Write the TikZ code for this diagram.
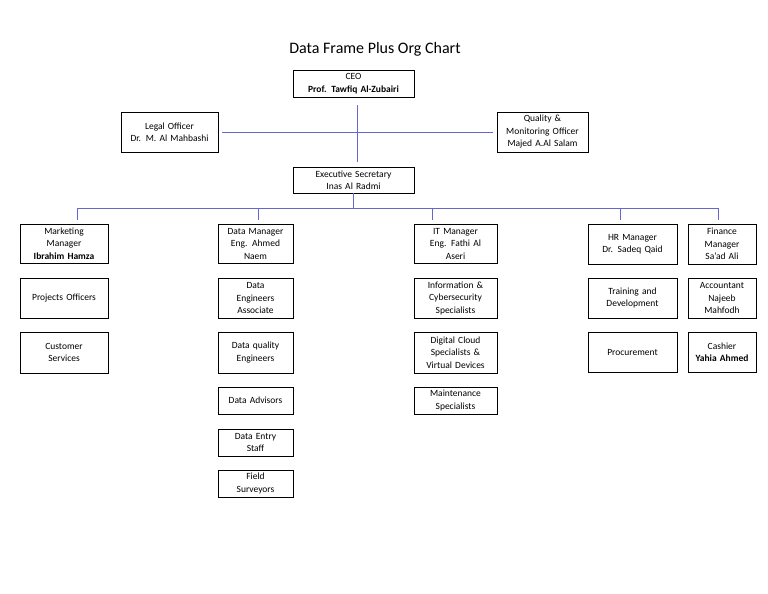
\documentclass[tikz,border=0pt]{standalone}
\usepackage{fontspec}
\setmainfont{Carlito}
\begin{document}
\begin{tikzpicture}[x=1pt,y=-1pt,
  box/.style={draw=black,line width=0.9pt,align=center,font=\fontsize{9.5}{12.5}\selectfont,inner sep=1pt,text width=#1-4pt},
  box/.default=80pt,
  ln/.style={draw=black!30!blue!60!white,line width=0.9pt}]
\useasboundingbox (0,0) rectangle (768,594);
\node[font=\fontsize{16}{18}\selectfont] (title) at (375,49) {Data Frame Plus Org Chart};
\newcommand\bx[7]{\node[box=#4-#3,minimum width=#4-#3,minimum height=#6-#5] (#1) at ({(#3+#4)/2},{(#5+#6)/2}) {#7};}
\bx{ceo}{}{293}{414}{70}{97}{CEO\\\textbf{Prof. Tawfiq Al-Zubairi}}
\bx{legal}{}{121}{218}{112}{152}{Legal Officer\\Dr. M. Al Mahbashi}
\bx{qual}{}{497}{588}{112}{152}{Quality \&\\Monitoring Officer\\Majed A.Al Salam}
\bx{exec}{}{293}{414}{167}{193}{Executive Secretary\\Inas Al Radmi}
\bx{mkt}{}{20}{108}{224}{263}{Marketing\\Manager\\\textbf{Ibrahim Hamza}}
\bx{proj}{}{20}{108}{278}{318}{Projects Officers}
\bx{cust}{}{20}{108}{332}{373}{Customer\\Services}
\bx{dm}{}{218}{293}{224}{263}{Data Manager\\Eng. Ahmed\\Naem}
\bx{de}{}{218}{293}{278}{318}{Data\\Engineers\\Associate}
\bx{dq}{}{218}{293}{332}{373}{Data quality\\Engineers}
\bx{da}{}{218}{293}{387}{414}{Data Advisors}
\bx{den}{}{218}{293}{429}{456}{Data Entry\\Staff}
\bx{fs}{}{218}{293}{470}{497}{Field\\Surveyors}
\bx{it}{}{414}{497}{224}{263}{IT Manager\\Eng. Fathi Al\\Aseri}
\bx{ics}{}{414}{497}{278}{318}{Information \&\\Cybersecurity\\Specialists}
\bx{dc}{}{414}{497}{332}{373}{Digital Cloud\\Specialists \&\\Virtual Devices}
\bx{ms}{}{414}{497}{387}{414}{Maintenance\\Specialists}
\bx{hr}{}{588}{677}{224}{264}{HR Manager\\Dr. Sadeq Qaid}
\bx{td}{}{588}{677}{278}{318}{Training and\\Development}
\bx{proc}{}{588}{677}{332}{372}{Procurement}
\bx{fin}{}{688}{756}{224}{264}{Finance\\Manager\\Sa'ad Ali}
\bx{acc}{}{688}{756}{278}{318}{Accountant\\Najeeb\\Mahfodh}
\bx{cash}{}{688}{756}{332}{372}{Cashier\\\textbf{Yahia Ahmed}}
% connectors
\coordinate (c1) at (357,105);
\coordinate (c2) at (357,162);
\coordinate (hm) at (357,136);
\draw[ln] (c1) -- (c2);
\draw[ln] (legal.east) ++(4,0) -- ([xshift=-4pt]qual.west);
\coordinate (bl) at (77,208);
\coordinate (br) at (718,208);
\draw[ln] (exec.south) -- (exec.south |- bl);
\draw[ln] (bl) -- (br);
\foreach \n/\x in {mkt/77,dm/258,it/432,hr/620,fin/718}
  \draw[ln] (\x,208) -- (\x,220);
\end{tikzpicture}
\end{document}
